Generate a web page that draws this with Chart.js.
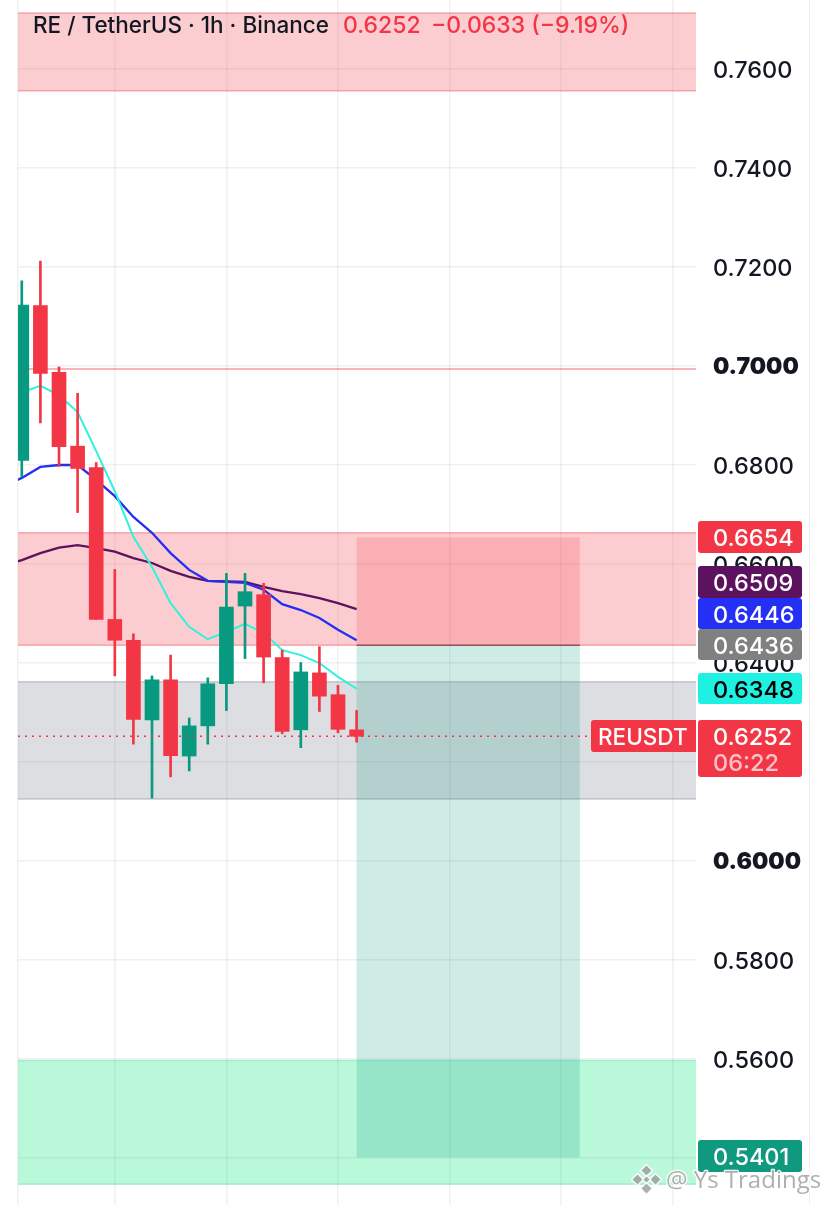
<!DOCTYPE html>
<html>
<head>
<meta charset="utf-8">
<style>
html, body { margin: 0; padding: 0; background: #fff; }
canvas { display: block; }
</style>
<script src="https://cdn.jsdelivr.net/npm/chart.js@4"></script>
</head>
<body>
<canvas id="re-chart" width="828" height="1205"></canvas>
<script>
const candleIndex = [0, 1, 2, 3, 4, 5, 6, 7, 8, 9, 10, 11, 12, 13, 14, 15, 16, 17, 18];
const opens  = [0.6809, 0.7122, 0.6987, 0.6838, 0.6795, 0.6488, 0.6446, 0.6285, 0.6366, 0.6212, 0.6273, 0.6358, 0.6515, 0.6538, 0.6411, 0.6265, 0.6380, 0.6336, 0.6265];
const closes = [0.7123, 0.6985, 0.6837, 0.6793, 0.6488, 0.6446, 0.6286, 0.6366, 0.6213, 0.6273, 0.6358, 0.6513, 0.6544, 0.6412, 0.6262, 0.6382, 0.6333, 0.6266, 0.6252];
const highs  = [0.7172, 0.7212, 0.6998, 0.6945, 0.6805, 0.6589, 0.6459, 0.6374, 0.6416, 0.6289, 0.6370, 0.6581, 0.6581, 0.6561, 0.6426, 0.6401, 0.6433, 0.6355, 0.6304];
const lows   = [0.6776, 0.6885, 0.6797, 0.6704, 0.6488, 0.6374, 0.6236, 0.6127, 0.6170, 0.6182, 0.6236, 0.6304, 0.6409, 0.6360, 0.6257, 0.6229, 0.6302, 0.6259, 0.6240];

// moving averages, first value sits one candle before the visible window
const maIndex = [-1, 0, 1, 2, 3, 4, 5, 6, 7, 8, 9, 10, 11, 12, 13, 14, 15, 16, 17, 18];
const maFast = [0.6931, 0.6947, 0.6960, 0.6941, 0.6907, 0.6828, 0.6747, 0.6655, 0.6594, 0.6521, 0.6473, 0.6448, 0.6463, 0.6479, 0.6461, 0.6426, 0.6416, 0.6400, 0.6372, 0.6348];
const maMid  = [0.6756, 0.6774, 0.6796, 0.6800, 0.6800, 0.6770, 0.6737, 0.6695, 0.6663, 0.6622, 0.6588, 0.6566, 0.6564, 0.6562, 0.6548, 0.6519, 0.6507, 0.6491, 0.6467, 0.6446];
const maSlow = [0.6596, 0.6608, 0.6622, 0.6633, 0.6638, 0.6632, 0.6625, 0.6612, 0.6602, 0.6586, 0.6574, 0.6566, 0.6565, 0.6564, 0.6554, 0.6545, 0.6539, 0.6531, 0.6521, 0.6509];

const priceTicks = [0.76, 0.74, 0.72, 0.70, 0.68, 0.66, 0.64, 0.62, 0.60, 0.58, 0.56, 0.54];
const boldTicks = [0.70, 0.60];
const timeTicks = [5, 11, 17, 23, 29, 35];

const lastPrice = 0.6252;
const upperZone = [0.7713, 0.7556];
const middleZone = [0.6663, 0.6436];
const grayZone = [0.6362, 0.6125];
const lowerZone = [0.5597, 0.5347];
const keyLevel = 0.6994;
const tradeEntry = 0.6436;
const tradeStop = 0.6654;
const tradeTarget = 0.5401;
const tradeStart = 18;
const tradeEnd = 30;

const yMin = 0.530505;
const yMax = 0.773939;
const xMin = -0.2043;
const xMax = 36.247;

const upColor = '#089981';
const downColor = '#f23645';
const labelFont = '500 23.5px Inter';

function pad(ctx, x, y, w, h, color, radii) {
    ctx.fillStyle = color;
    ctx.beginPath();
    ctx.roundRect(x, y, w, h, radii);
    ctx.fill();
}

const tradingPlugin = {
    id: 'tradingOverlay',
    beforeDatasetsDraw(chart) {
        const ctx = chart.ctx;
        const { x, y } = chart.scales;
        const area = chart.chartArea;
        const band = (range, fill, line) => {
            const top = y.getPixelForValue(range[0]);
            const bottom = y.getPixelForValue(range[1]);
            ctx.fillStyle = fill;
            ctx.fillRect(area.left, top, area.width, bottom - top);
            ctx.strokeStyle = line;
            ctx.lineWidth = 1.5;
            ctx.beginPath();
            ctx.moveTo(area.left, top);
            ctx.lineTo(area.right, top);
            ctx.moveTo(area.left, bottom);
            ctx.lineTo(area.right, bottom);
            ctx.stroke();
        };
        ctx.save();
        band(upperZone, 'rgba(242,54,69,0.25)', 'rgba(242,100,110,0.5)');
        band(middleZone, 'rgba(242,54,69,0.25)', 'rgba(242,100,110,0.5)');
        band(grayZone, 'rgba(120,123,134,0.25)', 'rgba(120,123,134,0.35)');
        band(lowerZone, 'rgba(0,230,118,0.27)', 'rgba(0,200,120,0.25)');

        // key level line
        const levelY = y.getPixelForValue(keyLevel);
        ctx.strokeStyle = 'rgba(242,54,69,0.5)';
        ctx.lineWidth = 1.5;
        ctx.beginPath();
        ctx.moveTo(area.left, levelY);
        ctx.lineTo(area.right, levelY);
        ctx.stroke();

        // short position box
        const left = x.getPixelForValue(tradeStart);
        const right = x.getPixelForValue(tradeEnd);
        const entryY = y.getPixelForValue(tradeEntry);
        const stopY = y.getPixelForValue(tradeStop);
        const targetY = y.getPixelForValue(tradeTarget);
        ctx.fillStyle = 'rgba(242,54,69,0.2)';
        ctx.fillRect(left, stopY, right - left, entryY - stopY);
        ctx.fillStyle = 'rgba(8,153,129,0.2)';
        ctx.fillRect(left, entryY, right - left, targetY - entryY);
        ctx.strokeStyle = 'rgba(120,60,70,0.75)';
        ctx.beginPath();
        ctx.moveTo(left, entryY);
        ctx.lineTo(right, entryY);
        ctx.stroke();
        ctx.restore();
    },
    afterDraw(chart) {
        const ctx = chart.ctx;
        ctx.save();

        // far right separator
        ctx.strokeStyle = 'rgba(42,46,57,0.07)';
        ctx.lineWidth = 1;
        ctx.beginPath();
        ctx.moveTo(809.5, 0);
        ctx.lineTo(809.5, 1205);
        ctx.stroke();

        // header
        ctx.textBaseline = 'middle';
        ctx.textAlign = 'left';
        ctx.font = '500 22.5px Inter';
        ctx.fillStyle = '#131722';
        ctx.fillText('RE / TetherUS · 1h · Binance', 33, 26);
        ctx.font = '500 23px Inter';
        ctx.fillStyle = downColor;
        ctx.fillText('0.6252', 343, 26);
        ctx.fillText('−0.0633 (−9.19%)', 431, 26);

        // price labels
        const tags = [
            ['0.6654', '#f23645', '#ffffff', 521, 32],
            ['0.6509', '#5d1260', '#ffffff', 566, 32],
            ['0.6446', '#2430f5', '#ffffff', 598, 31],
            ['0.6436', '#808080', '#ffffff', 629, 31],
            ['0.6348', '#1ef0e2', '#000000', 673, 31],
            ['0.5401', '#0f9a80', '#ffffff', 1140, 32]
        ];
        ctx.font = labelFont;
        tags.forEach(([text, fill, ink, top, height]) => {
            pad(ctx, 698, top, 104, height, fill, 3);
            ctx.fillStyle = ink;
            ctx.fillText(text, 713, top + height / 2 + 2);
        });

        pad(ctx, 698, 720, 104, 57, downColor, 3);
        ctx.fillStyle = '#ffffff';
        ctx.fillText(lastPrice.toFixed(4), 713, 738);
        ctx.fillStyle = 'rgba(255,255,255,0.7)';
        ctx.fillText('06:22', 713, 764);

        pad(ctx, 591, 720, 105, 32, downColor, [3, 0, 0, 3]);
        ctx.fillStyle = '#ffffff';
        ctx.font = '500 22.5px Inter';
        ctx.fillText('REUSDT', 598, 738);

        // watermark
        const mark = (cx, cy, r) => {
            ctx.beginPath();
            ctx.moveTo(cx, cy - r);
            ctx.lineTo(cx + r, cy);
            ctx.lineTo(cx, cy + r);
            ctx.lineTo(cx - r, cy);
            ctx.closePath();
            ctx.fill();
            ctx.stroke();
        };
        ctx.fillStyle = 'rgba(155,155,155,0.8)';
        ctx.strokeStyle = 'rgba(255,255,255,0.9)';
        ctx.lineWidth = 1.5;
        mark(646.5, 1170.5, 6);
        mark(646.5, 1188.5, 6);
        mark(637.5, 1179.5, 6);
        mark(655.5, 1179.5, 6);
        mark(646.5, 1179.5, 4);
        ctx.font = '24px "Open Sans"';
        ctx.lineWidth = 2.5;
        ctx.lineJoin = 'round';
        ctx.strokeText('@ Ys Tradings', 666, 1181);
        ctx.fillText('@ Ys Tradings', 666, 1181);
        ctx.restore();
    }
};

const chartCanvas = document.getElementById('re-chart');
const reChart = new Chart(chartCanvas, {
    type: 'bar',
    data: {
        datasets: [
            {
                type: 'line',
                label: 'Last price',
                data: [{ x: xMin, y: lastPrice }, { x: xMax, y: lastPrice }],
                borderColor: downColor,
                borderWidth: 1.5,
                borderDash: [2, 5],
                pointRadius: 0,
                order: 0
            },
            {
                label: 'Body',
                data: candleIndex.map((i) => ({ x: i, y: [opens[i], closes[i]] })),
                backgroundColor: candleIndex.map((i) => (closes[i] >= opens[i] ? upColor : downColor)),
                barThickness: 14,
                grouped: false,
                order: 1
            },
            {
                label: 'Wick',
                data: candleIndex.map((i) => ({ x: i, y: [lows[i], highs[i]] })),
                backgroundColor: candleIndex.map((i) => (closes[i] >= opens[i] ? upColor : downColor)),
                barThickness: 2,
                grouped: false,
                order: 2
            },
            {
                type: 'line',
                label: 'MA fast',
                data: maIndex.map((x, i) => ({ x: x, y: maFast[i] })),
                borderColor: '#2ef2dc',
                borderWidth: 2,
                pointRadius: 0,
                order: 3
            },
            {
                type: 'line',
                label: 'MA mid',
                data: maIndex.map((x, i) => ({ x: x, y: maMid[i] })),
                borderColor: '#2430f0',
                borderWidth: 2.3,
                pointRadius: 0,
                order: 4
            },
            {
                type: 'line',
                label: 'MA slow',
                data: maIndex.map((x, i) => ({ x: x, y: maSlow[i] })),
                borderColor: '#5d1260',
                borderWidth: 2.3,
                pointRadius: 0,
                order: 5
            }
        ]
    },
    options: {
        responsive: false,
        animation: false,
        layout: { autoPadding: false, padding: { left: 18, right: 0, top: 0, bottom: 0 } },
        scales: {
            x: {
                type: 'linear',
                min: xMin,
                max: xMax,
                offset: false,
                border: { display: false },
                grid: { offset: false, color: 'rgba(42,46,57,0.07)', lineWidth: 1.5, drawTicks: false },
                ticks: { display: false },
                afterFit: (scale) => {
                    scale.height = 0;
                    scale.paddingLeft = 0;
                    scale.paddingRight = 0;
                },
                afterBuildTicks: (scale) => {
                    scale.ticks = [xMin].concat(timeTicks).map((value) => ({ value: value }));
                }
            },
            y: {
                position: 'right',
                min: yMin,
                max: yMax,
                border: { display: false },
                grid: { color: 'rgba(42,46,57,0.07)', lineWidth: 1.5, drawTicks: false },
                afterFit: (scale) => {
                    scale.width = 132;
                    scale.paddingTop = 0;
                    scale.paddingBottom = 0;
                },
                afterBuildTicks: (scale) => {
                    scale.ticks = priceTicks.map((value) => ({ value: value }));
                },
                ticks: {
                    padding: 17,
                    labelOffset: 1.5,
                    color: '#131722',
                    font: (context) => {
                        const bold = boldTicks.includes(context.tick && context.tick.value);
                        return { family: 'Inter', size: bold ? 23 : 23.5, weight: bold ? '900' : '500' };
                    },
                    callback: function(value) {
                        return Number(value).toFixed(4);
                    }
                }
            }
        },
        plugins: {
            legend: { display: false },
            tooltip: { enabled: false }
        }
    },
    plugins: [tradingPlugin]
});
</script>
</body>
</html>
